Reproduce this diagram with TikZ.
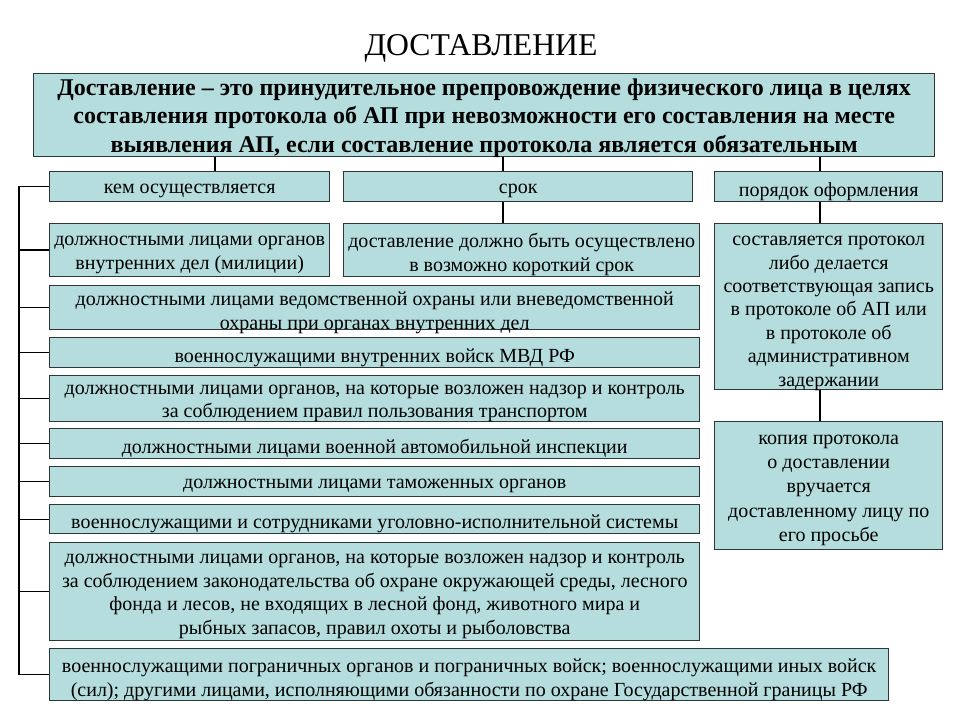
\documentclass[tikz,border=0pt]{standalone}
\usepackage{fontspec}
\setmainfont{Liberation Serif}
\definecolor{boxfill}{RGB}{181,221,221}
\definecolor{boxline}{RGB}{45,55,55}
\newlength\mybxw
\def\mysh{3.5pt}
\newcommand\bxt[1]{\raisebox{-\mysh}[\height][\depth]{\parbox{\mybxw}{\centering #1}}}
\begin{document}
\begin{tikzpicture}[x=0.75pt,y=-0.75pt,
  tshift/.style={/utils/exec={\def\mysh{#1}}},
  bx/.style 2 args={draw=boxline, line width=1.1pt, fill=boxfill, anchor=north west,
    minimum width=#1*0.75pt, minimum height=#2*0.75pt, inner sep=0pt,
    /utils/exec={\pgfmathsetlength{\mybxw}{#1*0.75pt-2pt}},
    font=\fontsize{15}{17.9}\selectfont},
  conn/.style={draw=black, line width=1.1pt}]
\useasboundingbox (0,0) rectangle (960,720);
\node (title) at (481,48) {\fontsize{23.8}{28}\selectfont ДОСТАВЛЕНИЕ};
\node[bx={901}{83}, tshift=2pt, font=\bfseries\fontsize{18}{21.4}\selectfont] (main) at (33,73)
 {\bxt{Доставление – это принудительное препровождение физического лица в целях\\
  составления протокола об АП при невозможности его составления на месте\\
  выявления АП, если составление протокола является обязательным}};
\node[bx={280}{30}] (kem) at (49,171) {\bxt{кем осуществляется}};
\node[bx={349}{30}] (srok) at (343,171) {\bxt{срок}};
\node[bx={228}{30}] (por) at (714,171) {\bxt{порядок оформления}};
\node[bx={280}{53}] (b2) at (49,223) {\bxt{должностными лицами органов\\ внутренних дел (милиции)}};
\node[bx={356}{53}] (srok2) at (343,223) {\bxt{доставление должно быть осуществлено\\ в возможно короткий срок}};
\node[bx={228}{166}, tshift=5pt, font=\fontsize{15}{17.6}\selectfont] (por2) at (714,223) {\bxt{составляется протокол\\ либо делается\\ соответствующая запись\\ в протоколе об АП или\\ в протоколе об\\ административном\\ задержании}};
\node[bx={228}{128}, tshift=3.5pt, font=\fontsize{15}{18.1}\selectfont] (por3) at (714,421) {\bxt{копия протокола\\ о доставлении\\ вручается\\ доставленному лицу по\\ его просьбе}};
\node[bx={650}{44}] (b3) at (49,285) {\bxt{должностными лицами ведомственной охраны или вневедомственной\\ охраны при органах внутренних дел}};
\node[bx={650}{30}] (b4) at (49,337) {\bxt{военнослужащими внутренних войск МВД РФ}};
\node[bx={650}{46}] (b5) at (49,375) {\bxt{должностными лицами органов, на которые возложен надзор и контроль\\ за соблюдением правил пользования транспортом}};
\node[bx={650}{30}] (b6) at (49,428) {\bxt{должностными лицами военной автомобильной инспекции}};
\node[bx={650}{30}] (b7) at (49,466) {\bxt{должностными лицами таможенных органов}};
\node[bx={650}{29}] (b8) at (49,504) {\bxt{военнослужащими и сотрудниками уголовно-исполнительной системы}};
\node[bx={650}{98}] (b9) at (49,542) {\bxt{должностными лицами органов, на которые возложен надзор и контроль\\ за соблюдением законодательства об охране окружающей среды, лесного\\ фонда и лесов, не входящих в лесной фонд, животного мира и\\ рыбных запасов, правил охоты и рыболовства}};
\node[bx={839}{52}] (b10) at (49,648) {\bxt{военнослужащими пограничных органов и пограничных войск; военнослужащими иных войск\\ (сил); другими лицами, исполняющими обязанности по охране Государственной границы РФ}};
% connectors
\coordinate (c1) at (215,0);
\coordinate (c2) at (503,0);
\coordinate (c3) at (820,0);
\coordinate (rail) at (19,0);
\draw[conn] (c1 |- main.south) -- (c1 |- kem.north);
\draw[conn] (c2 |- main.south) -- (c2 |- srok.north);
\draw[conn] (c3 |- main.south) -- (c3 |- por.north);
\draw[conn] (c2 |- srok.south) -- (c2 |- srok2.north);
\draw[conn] (c3 |- por.south) -- (c3 |- por2.north);
\draw[conn] (c3 |- por2.south) -- (c3 |- por3.north);
\draw[conn] (kem.west) -- (kem.west -| rail) -- (b10.west -| rail) -- (b10.west);
\foreach \b in {b2,b3,b4,b5,b6,b7,b8,b9}
  \draw[conn] (\b.west) -- (\b.west -| rail);
\end{tikzpicture}
\end{document}
